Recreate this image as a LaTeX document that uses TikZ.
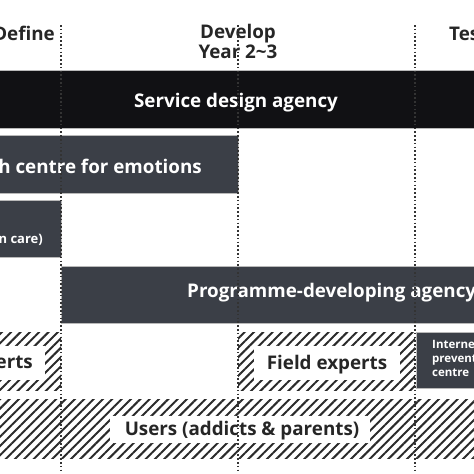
\documentclass[tikz,border=0pt]{standalone}
\usepackage{fontspec}
\setmainfont{Open Sans}
\usetikzlibrary{patterns.meta}

\definecolor{barblack}{HTML}{111114}
\definecolor{bargray}{HTML}{3B3F47}
\definecolor{hatchgray}{HTML}{2A2A2A}

\tikzset{
  headtext/.style={font=\fontsize{18.8}{18}\selectfont\bfseries, text=black!85, inner sep=0pt},
  bartext/.style={font=\fontsize{18.8}{18}\selectfont\bfseries, text=white, inner sep=0pt},
  hatchtext/.style={font=\fontsize{18.8}{18}\selectfont\bfseries, text=black!85, inner sep=0pt},
  smalltext/.style={font=\fontsize{13}{14}\selectfont\bfseries, text=white, inner sep=0pt},
  tinytext/.style={font=\fontsize{11.5}{14}\selectfont\bfseries, text=white, inner sep=0pt, align=left},
  darkbar/.style={fill=barblack, draw=gray!55, line width=0.8pt},
  graybar/.style={fill=bargray, draw=gray!55, line width=0.8pt},
  hatchbox/.style={pattern={Lines[angle=45,distance=6.6pt,line width=2pt]}, pattern color=hatchgray},
  clearbox/.style={fill=white},
  phaseline/.style={dash pattern=on 1.5pt off 2.3pt, line width=1.6pt, black!80},
}

\begin{document}
\begin{tikzpicture}[x=1pt, y=-1pt]
  \useasboundingbox (0,0) rectangle (474,474);
  \clip (0,0) rectangle (474,474);

  % Phases
  \node[headtext, anchor=base east] (define) at (55,40) {Define};
  \node[headtext, anchor=base, align=center] (develop) at (238,58) {Develop\\Year 2\textasciitilde3};
  \node[headtext, anchor=base west] (test) at (449,40) {Tes};

  % Barres pleines
  \draw[darkbar] (-2,70) rectangle (476,128);
  \node[bartext, anchor=base] (sda) at (236,107) {Service design agency};

  \draw[graybar] (-2,135) rectangle (238,193);
  \node[bartext, anchor=base east] (rce) at (202,173) {h centre for emotions};

  \draw[graybar] (-2,200) rectangle (61,257);
  \node[smalltext, anchor=base east] (care) at (43,243) {n care)};

  \draw[graybar] (61,266) rectangle (476,323);
  \node[bartext, anchor=base west] (pda) at (187,297) {Programme-developing agency};

  \draw[graybar] (416,332) rectangle (476,388);
  \node[tinytext, anchor=north west] (ipc) at (432,340) {Internet\\prevention\\centre};

  % Barres hachurées
  \fill[hatchbox] (-2,332) rectangle (61,390);
  \fill[clearbox] (-2,346) rectangle (45,380);
  \node[hatchtext, anchor=base east] (exl) at (33,368) {erts};

  \fill[hatchbox] (238,332) rectangle (415,390);
  \fill[clearbox] (254,346) rectangle (400,380);
  \node[hatchtext, anchor=base] (fex) at (327,369) {Field experts};

  \fill[hatchbox] (-2,399) rectangle (476,458);
  \fill[clearbox] (110,416) rectangle (370,443);
  \node[hatchtext, anchor=base] (usr) at (242,435) {Users (addicts \& parents)};

  % Séparateurs de phases
  \foreach \px in {61,238,415}
    \draw[phaseline] (\px,25) -- (\px,470);
\end{tikzpicture}
\end{document}
